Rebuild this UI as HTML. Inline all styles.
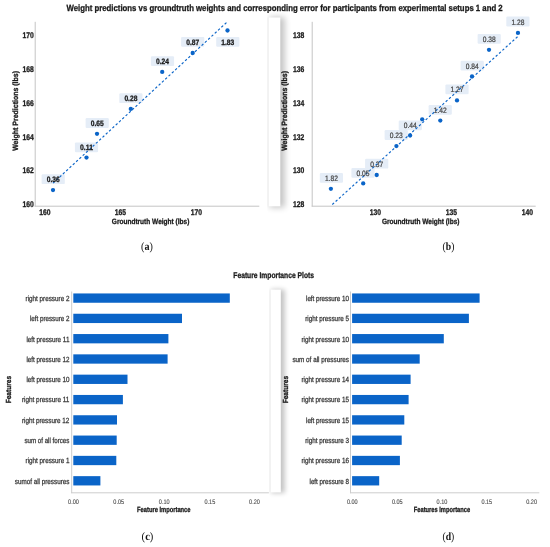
<!DOCTYPE html>
<html><head><meta charset="utf-8"><title>Figure</title>
<style>html,body{margin:0;padding:0;background:#fff}svg{display:block}</style>
</head><body>
<svg width="550" height="547" viewBox="0 0 550 547" text-rendering="geometricPrecision">
<rect width="550" height="547" fill="#fff"/>
<defs>
<filter id="bl" x="-100%" y="-10%" width="300%" height="120%"><feGaussianBlur stdDeviation="3.2"/></filter>
<filter id="bl2" x="-100%" y="-10%" width="300%" height="120%"><feGaussianBlur stdDeviation="2.8"/></filter>
<clipPath id="c1"><rect x="267.2" y="10" width="40" height="215"/></clipPath>
<clipPath id="c2"><rect x="269.2" y="282" width="40" height="225"/></clipPath>
</defs>
<g clip-path="url(#c1)"><rect x="269.5" y="17" width="15.3" height="190.5" fill="#000" opacity="0.23" filter="url(#bl)"/></g>
<rect x="268.80" y="17.50" width="11.50" height="188.80" fill="#fff"/>
<rect x="267.30" y="17.50" width="1.50" height="188.80" fill="#f3f3f3"/>
<g clip-path="url(#c2)"><rect x="271" y="289.5" width="13.8" height="203.5" fill="#000" opacity="0.23" filter="url(#bl2)"/></g>
<rect x="270.60" y="289.60" width="10.20" height="202.80" fill="#fff"/>
<rect x="269.60" y="289.60" width="1.00" height="202.80" fill="#f3f3f3"/>
<text x="66.50" y="10.90" font-family='"Liberation Sans", sans-serif' font-size="9" font-weight="bold" fill="#1a1a1a" textLength="436.20" lengthAdjust="spacingAndGlyphs" stroke="#1a1a1a" stroke-width="0.3">Weight predictions vs groundtruth weights and corresponding error for participants from experimental setups 1 and 2</text>
<text x="233.30" y="277.60" font-family='"Liberation Sans", sans-serif' font-size="8.3" font-weight="bold" fill="#1a1a1a" textLength="80.70" lengthAdjust="spacingAndGlyphs" stroke="#1a1a1a" stroke-width="0.3">Feature Importance Plots</text>
<line x1="35.20" y1="21.80" x2="35.20" y2="206.50" stroke="#c4c4c4" stroke-width="1"/>
<line x1="34.70" y1="206.20" x2="259.30" y2="206.20" stroke="#c4c4c4" stroke-width="1"/>
<text x="22.50" y="38.25" font-family='"Liberation Sans", sans-serif' font-size="8.3" font-weight="bold" fill="#1a1a1a" textLength="11.30" lengthAdjust="spacingAndGlyphs" stroke="#1a1a1a" stroke-width="0.3">170</text>
<text x="22.50" y="72.03" font-family='"Liberation Sans", sans-serif' font-size="8.3" font-weight="bold" fill="#1a1a1a" textLength="11.30" lengthAdjust="spacingAndGlyphs" stroke="#1a1a1a" stroke-width="0.3">168</text>
<text x="22.50" y="105.81" font-family='"Liberation Sans", sans-serif' font-size="8.3" font-weight="bold" fill="#1a1a1a" textLength="11.30" lengthAdjust="spacingAndGlyphs" stroke="#1a1a1a" stroke-width="0.3">166</text>
<text x="22.50" y="139.59" font-family='"Liberation Sans", sans-serif' font-size="8.3" font-weight="bold" fill="#1a1a1a" textLength="11.30" lengthAdjust="spacingAndGlyphs" stroke="#1a1a1a" stroke-width="0.3">164</text>
<text x="22.50" y="173.37" font-family='"Liberation Sans", sans-serif' font-size="8.3" font-weight="bold" fill="#1a1a1a" textLength="11.30" lengthAdjust="spacingAndGlyphs" stroke="#1a1a1a" stroke-width="0.3">162</text>
<text x="22.50" y="207.15" font-family='"Liberation Sans", sans-serif' font-size="8.3" font-weight="bold" fill="#1a1a1a" textLength="11.30" lengthAdjust="spacingAndGlyphs" stroke="#1a1a1a" stroke-width="0.3">160</text>
<text x="39.35" y="214.90" font-family='"Liberation Sans", sans-serif' font-size="8.2" font-weight="bold" fill="#1a1a1a" textLength="11.30" lengthAdjust="spacingAndGlyphs" stroke="#1a1a1a" stroke-width="0.3">160</text>
<text x="114.75" y="214.90" font-family='"Liberation Sans", sans-serif' font-size="8.2" font-weight="bold" fill="#1a1a1a" textLength="11.30" lengthAdjust="spacingAndGlyphs" stroke="#1a1a1a" stroke-width="0.3">165</text>
<text x="190.65" y="214.90" font-family='"Liberation Sans", sans-serif' font-size="8.2" font-weight="bold" fill="#1a1a1a" textLength="11.30" lengthAdjust="spacingAndGlyphs" stroke="#1a1a1a" stroke-width="0.3">170</text>
<text transform="translate(18.00,150.85) rotate(-90)" x="0" y="0" font-family='"Liberation Sans", sans-serif' font-size="7.7" font-weight="bold" fill="#1a1a1a" stroke="#1a1a1a" stroke-width="0.3" textLength="79.90" lengthAdjust="spacingAndGlyphs">Weight Predictions (lbs)</text>
<text x="111.80" y="223.70" font-family='"Liberation Sans", sans-serif' font-size="7.7" font-weight="bold" fill="#1a1a1a" textLength="77.60" lengthAdjust="spacingAndGlyphs" stroke="#1a1a1a" stroke-width="0.3">Groundtruth Weight (lbs)</text>
<rect x="41.60" y="174.30" width="23.2" height="9.8" rx="1.2" fill="#e5edf7"/>
<rect x="74.90" y="142.40" width="23.2" height="9.8" rx="1.2" fill="#e5edf7"/>
<rect x="85.60" y="118.10" width="23.2" height="9.8" rx="1.2" fill="#e5edf7"/>
<rect x="119.30" y="93.30" width="23.2" height="9.8" rx="1.2" fill="#e5edf7"/>
<rect x="150.90" y="56.20" width="23.2" height="9.8" rx="1.2" fill="#e5edf7"/>
<rect x="181.10" y="36.90" width="23.2" height="9.8" rx="1.2" fill="#e5edf7"/>
<rect x="216.20" y="36.90" width="23.2" height="9.8" rx="1.2" fill="#e5edf7"/>
<line x1="53.0" y1="183.2" x2="227.5" y2="21.6" stroke="#0a64c8" stroke-width="1.15" stroke-dasharray="2.4 2.1"/>
<circle cx="53.00" cy="190.10" r="2.15" fill="#0a64c8"/>
<circle cx="86.50" cy="157.60" r="2.15" fill="#0a64c8"/>
<circle cx="97.00" cy="133.80" r="2.15" fill="#0a64c8"/>
<circle cx="130.80" cy="108.90" r="2.15" fill="#0a64c8"/>
<circle cx="162.20" cy="71.90" r="2.15" fill="#0a64c8"/>
<circle cx="192.70" cy="53.00" r="2.15" fill="#0a64c8"/>
<circle cx="227.50" cy="30.50" r="2.15" fill="#0a64c8"/>
<text x="46.70" y="182.20" font-family='"Liberation Sans", sans-serif' font-size="7.8" font-weight="bold" fill="#1a1a1a" textLength="13.00" lengthAdjust="spacingAndGlyphs" stroke="#1a1a1a" stroke-width="0.3">0.36</text>
<text x="80.00" y="150.30" font-family='"Liberation Sans", sans-serif' font-size="7.8" font-weight="bold" fill="#1a1a1a" textLength="13.00" lengthAdjust="spacingAndGlyphs" stroke="#1a1a1a" stroke-width="0.3">0.11</text>
<text x="90.70" y="126.00" font-family='"Liberation Sans", sans-serif' font-size="7.8" font-weight="bold" fill="#1a1a1a" textLength="13.00" lengthAdjust="spacingAndGlyphs" stroke="#1a1a1a" stroke-width="0.3">0.65</text>
<text x="124.40" y="101.20" font-family='"Liberation Sans", sans-serif' font-size="7.8" font-weight="bold" fill="#1a1a1a" textLength="13.00" lengthAdjust="spacingAndGlyphs" stroke="#1a1a1a" stroke-width="0.3">0.28</text>
<text x="156.00" y="64.10" font-family='"Liberation Sans", sans-serif' font-size="7.8" font-weight="bold" fill="#1a1a1a" textLength="13.00" lengthAdjust="spacingAndGlyphs" stroke="#1a1a1a" stroke-width="0.3">0.24</text>
<text x="186.20" y="44.80" font-family='"Liberation Sans", sans-serif' font-size="7.8" font-weight="bold" fill="#1a1a1a" textLength="13.00" lengthAdjust="spacingAndGlyphs" stroke="#1a1a1a" stroke-width="0.3">0.87</text>
<text x="221.30" y="44.80" font-family='"Liberation Sans", sans-serif' font-size="7.8" font-weight="bold" fill="#1a1a1a" textLength="13.00" lengthAdjust="spacingAndGlyphs" stroke="#1a1a1a" stroke-width="0.3">1.83</text>
<text x="141.10" y="249.9" textLength="11.8" lengthAdjust="spacingAndGlyphs" font-family='"Liberation Serif", serif' font-size="11.3" fill="#111">(<tspan font-weight="bold">a</tspan>)</text>
<line x1="312.20" y1="21.80" x2="312.20" y2="206.50" stroke="#c4c4c4" stroke-width="1"/>
<line x1="311.70" y1="206.20" x2="535.70" y2="206.20" stroke="#c4c4c4" stroke-width="1"/>
<text x="292.90" y="38.25" font-family='"Liberation Sans", sans-serif' font-size="8.3" font-weight="bold" fill="#1a1a1a" textLength="11.30" lengthAdjust="spacingAndGlyphs" stroke="#1a1a1a" stroke-width="0.3">138</text>
<text x="292.90" y="72.03" font-family='"Liberation Sans", sans-serif' font-size="8.3" font-weight="bold" fill="#1a1a1a" textLength="11.30" lengthAdjust="spacingAndGlyphs" stroke="#1a1a1a" stroke-width="0.3">136</text>
<text x="292.90" y="105.81" font-family='"Liberation Sans", sans-serif' font-size="8.3" font-weight="bold" fill="#1a1a1a" textLength="11.30" lengthAdjust="spacingAndGlyphs" stroke="#1a1a1a" stroke-width="0.3">134</text>
<text x="292.90" y="139.59" font-family='"Liberation Sans", sans-serif' font-size="8.3" font-weight="bold" fill="#1a1a1a" textLength="11.30" lengthAdjust="spacingAndGlyphs" stroke="#1a1a1a" stroke-width="0.3">132</text>
<text x="292.90" y="173.37" font-family='"Liberation Sans", sans-serif' font-size="8.3" font-weight="bold" fill="#1a1a1a" textLength="11.30" lengthAdjust="spacingAndGlyphs" stroke="#1a1a1a" stroke-width="0.3">130</text>
<text x="292.90" y="207.15" font-family='"Liberation Sans", sans-serif' font-size="8.3" font-weight="bold" fill="#1a1a1a" textLength="11.30" lengthAdjust="spacingAndGlyphs" stroke="#1a1a1a" stroke-width="0.3">128</text>
<text x="369.85" y="214.90" font-family='"Liberation Sans", sans-serif' font-size="8.2" font-weight="bold" fill="#1a1a1a" textLength="11.30" lengthAdjust="spacingAndGlyphs" stroke="#1a1a1a" stroke-width="0.3">130</text>
<text x="445.85" y="214.90" font-family='"Liberation Sans", sans-serif' font-size="8.2" font-weight="bold" fill="#1a1a1a" textLength="11.30" lengthAdjust="spacingAndGlyphs" stroke="#1a1a1a" stroke-width="0.3">135</text>
<text x="521.85" y="214.90" font-family='"Liberation Sans", sans-serif' font-size="8.2" font-weight="bold" fill="#1a1a1a" textLength="11.30" lengthAdjust="spacingAndGlyphs" stroke="#1a1a1a" stroke-width="0.3">140</text>
<text transform="translate(287.40,150.85) rotate(-90)" x="0" y="0" font-family='"Liberation Sans", sans-serif' font-size="7.7" font-weight="bold" fill="#1a1a1a" stroke="#1a1a1a" stroke-width="0.3" textLength="79.90" lengthAdjust="spacingAndGlyphs">Weight Predictions (lbs)</text>
<text x="381.90" y="223.70" font-family='"Liberation Sans", sans-serif' font-size="7.7" font-weight="bold" fill="#1a1a1a" textLength="77.60" lengthAdjust="spacingAndGlyphs" stroke="#1a1a1a" stroke-width="0.3">Groundtruth Weight (lbs)</text>
<rect x="319.80" y="172.90" width="23.2" height="9.8" rx="1.2" fill="#e5edf7"/>
<rect x="351.40" y="167.90" width="23.2" height="9.8" rx="1.2" fill="#e5edf7"/>
<rect x="365.10" y="158.80" width="23.2" height="9.8" rx="1.2" fill="#e5edf7"/>
<rect x="384.60" y="130.10" width="23.2" height="9.8" rx="1.2" fill="#e5edf7"/>
<rect x="398.70" y="120.50" width="23.2" height="9.8" rx="1.2" fill="#e5edf7"/>
<rect x="428.60" y="105.00" width="23.2" height="9.8" rx="1.2" fill="#e5edf7"/>
<rect x="445.40" y="84.40" width="23.2" height="9.8" rx="1.2" fill="#e5edf7"/>
<rect x="460.60" y="60.70" width="23.2" height="9.8" rx="1.2" fill="#e5edf7"/>
<rect x="477.60" y="33.90" width="23.2" height="9.8" rx="1.2" fill="#e5edf7"/>
<rect x="506.30" y="16.60" width="23.2" height="9.8" rx="1.2" fill="#e5edf7"/>
<line x1="332.3" y1="204.5" x2="518.0" y2="36.3" stroke="#0a64c8" stroke-width="1.15" stroke-dasharray="2.4 2.1"/>
<circle cx="330.90" cy="188.80" r="2.15" fill="#0a64c8"/>
<circle cx="363.20" cy="183.40" r="2.15" fill="#0a64c8"/>
<circle cx="376.70" cy="175.00" r="2.15" fill="#0a64c8"/>
<circle cx="396.40" cy="146.10" r="2.15" fill="#0a64c8"/>
<circle cx="410.10" cy="135.50" r="2.15" fill="#0a64c8"/>
<circle cx="422.20" cy="119.30" r="2.15" fill="#0a64c8"/>
<circle cx="440.30" cy="120.60" r="2.15" fill="#0a64c8"/>
<circle cx="457.00" cy="100.40" r="2.15" fill="#0a64c8"/>
<circle cx="472.00" cy="76.50" r="2.15" fill="#0a64c8"/>
<circle cx="489.00" cy="49.80" r="2.15" fill="#0a64c8"/>
<circle cx="517.95" cy="32.95" r="2.15" fill="#0a64c8"/>
<text x="324.90" y="180.80" font-family='"Liberation Sans", sans-serif' font-size="7.8" font-weight="normal" fill="#444" textLength="13.00" lengthAdjust="spacingAndGlyphs" stroke="#444" stroke-width="0.22">1.82</text>
<text x="356.50" y="175.80" font-family='"Liberation Sans", sans-serif' font-size="7.8" font-weight="normal" fill="#444" textLength="13.00" lengthAdjust="spacingAndGlyphs" stroke="#444" stroke-width="0.22">0.05</text>
<text x="370.20" y="166.70" font-family='"Liberation Sans", sans-serif' font-size="7.8" font-weight="normal" fill="#444" textLength="13.00" lengthAdjust="spacingAndGlyphs" stroke="#444" stroke-width="0.22">0.37</text>
<text x="389.70" y="138.00" font-family='"Liberation Sans", sans-serif' font-size="7.8" font-weight="normal" fill="#444" textLength="13.00" lengthAdjust="spacingAndGlyphs" stroke="#444" stroke-width="0.22">0.23</text>
<text x="403.80" y="128.40" font-family='"Liberation Sans", sans-serif' font-size="7.8" font-weight="normal" fill="#444" textLength="13.00" lengthAdjust="spacingAndGlyphs" stroke="#444" stroke-width="0.22">0.44</text>
<text x="433.70" y="112.90" font-family='"Liberation Sans", sans-serif' font-size="7.8" font-weight="normal" fill="#444" textLength="13.00" lengthAdjust="spacingAndGlyphs" stroke="#444" stroke-width="0.22">1.42</text>
<text x="450.50" y="92.30" font-family='"Liberation Sans", sans-serif' font-size="7.8" font-weight="normal" fill="#444" textLength="13.00" lengthAdjust="spacingAndGlyphs" stroke="#444" stroke-width="0.22">1.27</text>
<text x="465.70" y="68.60" font-family='"Liberation Sans", sans-serif' font-size="7.8" font-weight="normal" fill="#444" textLength="13.00" lengthAdjust="spacingAndGlyphs" stroke="#444" stroke-width="0.22">0.84</text>
<text x="482.70" y="41.80" font-family='"Liberation Sans", sans-serif' font-size="7.8" font-weight="normal" fill="#444" textLength="13.00" lengthAdjust="spacingAndGlyphs" stroke="#444" stroke-width="0.22">0.38</text>
<text x="511.40" y="24.50" font-family='"Liberation Sans", sans-serif' font-size="7.8" font-weight="normal" fill="#444" textLength="13.00" lengthAdjust="spacingAndGlyphs" stroke="#444" stroke-width="0.22">1.28</text>
<text x="442.60" y="249.9" textLength="11.8" lengthAdjust="spacingAndGlyphs" font-family='"Liberation Serif", serif' font-size="11.3" fill="#111">(<tspan font-weight="bold">b</tspan>)</text>
<line x1="71.70" y1="291.50" x2="71.70" y2="493.20" stroke="#cdcdcd" stroke-width="1"/>
<line x1="71.20" y1="492.80" x2="268.90" y2="492.80" stroke="#cdcdcd" stroke-width="1"/>
<rect x="73.30" y="293.45" width="156.50" height="9.30" fill="#0a64c8"/>
<text x="25.60" y="300.95" font-family='"Liberation Sans", sans-serif' font-size="7.5" font-weight="normal" fill="#383838" textLength="43.80" lengthAdjust="spacingAndGlyphs" stroke="#383838" stroke-width="0.28">right pressure 2</text>
<rect x="73.30" y="313.75" width="108.70" height="9.30" fill="#0a64c8"/>
<text x="29.90" y="321.25" font-family='"Liberation Sans", sans-serif' font-size="7.5" font-weight="normal" fill="#383838" textLength="39.50" lengthAdjust="spacingAndGlyphs" stroke="#383838" stroke-width="0.28">left pressure 2</text>
<rect x="73.30" y="334.05" width="95.10" height="9.30" fill="#0a64c8"/>
<text x="26.40" y="341.55" font-family='"Liberation Sans", sans-serif' font-size="7.5" font-weight="normal" fill="#383838" textLength="43.00" lengthAdjust="spacingAndGlyphs" stroke="#383838" stroke-width="0.28">left pressure 11</text>
<rect x="73.30" y="354.35" width="94.30" height="9.30" fill="#0a64c8"/>
<text x="26.40" y="361.85" font-family='"Liberation Sans", sans-serif' font-size="7.5" font-weight="normal" fill="#383838" textLength="43.00" lengthAdjust="spacingAndGlyphs" stroke="#383838" stroke-width="0.28">left pressure 12</text>
<rect x="73.30" y="374.65" width="54.20" height="9.30" fill="#0a64c8"/>
<text x="26.40" y="382.15" font-family='"Liberation Sans", sans-serif' font-size="7.5" font-weight="normal" fill="#383838" textLength="43.00" lengthAdjust="spacingAndGlyphs" stroke="#383838" stroke-width="0.28">left pressure 10</text>
<rect x="73.30" y="394.95" width="49.60" height="9.30" fill="#0a64c8"/>
<text x="21.90" y="402.45" font-family='"Liberation Sans", sans-serif' font-size="7.5" font-weight="normal" fill="#383838" textLength="47.50" lengthAdjust="spacingAndGlyphs" stroke="#383838" stroke-width="0.28">right pressure 11</text>
<rect x="73.30" y="415.25" width="43.70" height="9.30" fill="#0a64c8"/>
<text x="21.90" y="422.75" font-family='"Liberation Sans", sans-serif' font-size="7.5" font-weight="normal" fill="#383838" textLength="47.50" lengthAdjust="spacingAndGlyphs" stroke="#383838" stroke-width="0.28">right pressure 12</text>
<rect x="73.30" y="435.55" width="43.40" height="9.30" fill="#0a64c8"/>
<text x="24.40" y="443.05" font-family='"Liberation Sans", sans-serif' font-size="7.5" font-weight="normal" fill="#383838" textLength="45.00" lengthAdjust="spacingAndGlyphs" stroke="#383838" stroke-width="0.28">sum of all forces</text>
<rect x="73.30" y="455.85" width="43.00" height="9.30" fill="#0a64c8"/>
<text x="25.60" y="463.35" font-family='"Liberation Sans", sans-serif' font-size="7.5" font-weight="normal" fill="#383838" textLength="43.80" lengthAdjust="spacingAndGlyphs" stroke="#383838" stroke-width="0.28">right pressure 1</text>
<rect x="73.30" y="476.15" width="27.10" height="9.30" fill="#0a64c8"/>
<text x="14.80" y="483.65" font-family='"Liberation Sans", sans-serif' font-size="7.5" font-weight="normal" fill="#383838" textLength="54.60" lengthAdjust="spacingAndGlyphs" stroke="#383838" stroke-width="0.28">sumof all pressures</text>
<text x="68.10" y="503.80" font-family='"Liberation Sans", sans-serif' font-size="6.6" font-weight="normal" fill="#4c4c4c" textLength="10.80" lengthAdjust="spacingAndGlyphs" stroke="#4c4c4c" stroke-width="0.12">0.00</text>
<text x="113.30" y="503.80" font-family='"Liberation Sans", sans-serif' font-size="6.6" font-weight="normal" fill="#4c4c4c" textLength="10.80" lengthAdjust="spacingAndGlyphs" stroke="#4c4c4c" stroke-width="0.12">0.05</text>
<text x="158.80" y="503.80" font-family='"Liberation Sans", sans-serif' font-size="6.6" font-weight="normal" fill="#4c4c4c" textLength="10.80" lengthAdjust="spacingAndGlyphs" stroke="#4c4c4c" stroke-width="0.12">0.10</text>
<text x="204.50" y="503.80" font-family='"Liberation Sans", sans-serif' font-size="6.6" font-weight="normal" fill="#4c4c4c" textLength="10.80" lengthAdjust="spacingAndGlyphs" stroke="#4c4c4c" stroke-width="0.12">0.15</text>
<text x="249.10" y="503.80" font-family='"Liberation Sans", sans-serif' font-size="6.6" font-weight="normal" fill="#4c4c4c" textLength="10.80" lengthAdjust="spacingAndGlyphs" stroke="#4c4c4c" stroke-width="0.12">0.20</text>
<text x="137.10" y="512.20" font-family='"Liberation Sans", sans-serif' font-size="7.5" font-weight="bold" fill="#1a1a1a" textLength="53.40" lengthAdjust="spacingAndGlyphs" stroke="#1a1a1a" stroke-width="0.3">Feature Importance</text>
<text transform="translate(11.00,403.30) rotate(-90)" x="0" y="0" font-family='"Liberation Sans", sans-serif' font-size="7.4" font-weight="bold" fill="#1a1a1a" stroke="#1a1a1a" stroke-width="0.3" textLength="27.40" lengthAdjust="spacingAndGlyphs">Features</text>
<text x="141.60" y="539.7" textLength="11.8" lengthAdjust="spacingAndGlyphs" font-family='"Liberation Serif", serif' font-size="11.3" fill="#111">(<tspan font-weight="bold">c</tspan>)</text>
<line x1="350.50" y1="291.50" x2="350.50" y2="493.20" stroke="#cdcdcd" stroke-width="1"/>
<line x1="350.00" y1="492.80" x2="539.30" y2="492.80" stroke="#cdcdcd" stroke-width="1"/>
<rect x="352.10" y="293.45" width="127.50" height="9.30" fill="#0a64c8"/>
<text x="306.00" y="300.95" font-family='"Liberation Sans", sans-serif' font-size="7.5" font-weight="normal" fill="#383838" textLength="43.00" lengthAdjust="spacingAndGlyphs" stroke="#383838" stroke-width="0.28">left pressure 10</text>
<rect x="352.10" y="313.75" width="116.80" height="9.30" fill="#0a64c8"/>
<text x="305.20" y="321.25" font-family='"Liberation Sans", sans-serif' font-size="7.5" font-weight="normal" fill="#383838" textLength="43.80" lengthAdjust="spacingAndGlyphs" stroke="#383838" stroke-width="0.28">right pressure 5</text>
<rect x="352.10" y="334.05" width="91.70" height="9.30" fill="#0a64c8"/>
<text x="301.50" y="341.55" font-family='"Liberation Sans", sans-serif' font-size="7.5" font-weight="normal" fill="#383838" textLength="47.50" lengthAdjust="spacingAndGlyphs" stroke="#383838" stroke-width="0.28">right pressure 10</text>
<rect x="352.10" y="354.35" width="67.60" height="9.30" fill="#0a64c8"/>
<text x="292.40" y="361.85" font-family='"Liberation Sans", sans-serif' font-size="7.5" font-weight="normal" fill="#383838" textLength="56.60" lengthAdjust="spacingAndGlyphs" stroke="#383838" stroke-width="0.28">sum of all pressures</text>
<rect x="352.10" y="374.65" width="58.50" height="9.30" fill="#0a64c8"/>
<text x="301.50" y="382.15" font-family='"Liberation Sans", sans-serif' font-size="7.5" font-weight="normal" fill="#383838" textLength="47.50" lengthAdjust="spacingAndGlyphs" stroke="#383838" stroke-width="0.28">right pressure 14</text>
<rect x="352.10" y="394.95" width="56.50" height="9.30" fill="#0a64c8"/>
<text x="301.50" y="402.45" font-family='"Liberation Sans", sans-serif' font-size="7.5" font-weight="normal" fill="#383838" textLength="47.50" lengthAdjust="spacingAndGlyphs" stroke="#383838" stroke-width="0.28">right pressure 15</text>
<rect x="352.10" y="415.25" width="52.20" height="9.30" fill="#0a64c8"/>
<text x="306.00" y="422.75" font-family='"Liberation Sans", sans-serif' font-size="7.5" font-weight="normal" fill="#383838" textLength="43.00" lengthAdjust="spacingAndGlyphs" stroke="#383838" stroke-width="0.28">left pressure 15</text>
<rect x="352.10" y="435.55" width="49.60" height="9.30" fill="#0a64c8"/>
<text x="305.20" y="443.05" font-family='"Liberation Sans", sans-serif' font-size="7.5" font-weight="normal" fill="#383838" textLength="43.80" lengthAdjust="spacingAndGlyphs" stroke="#383838" stroke-width="0.28">right pressure 3</text>
<rect x="352.10" y="455.85" width="47.80" height="9.30" fill="#0a64c8"/>
<text x="301.50" y="463.35" font-family='"Liberation Sans", sans-serif' font-size="7.5" font-weight="normal" fill="#383838" textLength="47.50" lengthAdjust="spacingAndGlyphs" stroke="#383838" stroke-width="0.28">right pressure 16</text>
<rect x="352.10" y="476.15" width="27.10" height="9.30" fill="#0a64c8"/>
<text x="309.50" y="483.65" font-family='"Liberation Sans", sans-serif' font-size="7.5" font-weight="normal" fill="#383838" textLength="39.50" lengthAdjust="spacingAndGlyphs" stroke="#383838" stroke-width="0.28">left pressure 8</text>
<text x="346.90" y="503.80" font-family='"Liberation Sans", sans-serif' font-size="6.6" font-weight="normal" fill="#4c4c4c" textLength="10.80" lengthAdjust="spacingAndGlyphs" stroke="#4c4c4c" stroke-width="0.12">0.00</text>
<text x="391.90" y="503.80" font-family='"Liberation Sans", sans-serif' font-size="6.6" font-weight="normal" fill="#4c4c4c" textLength="10.80" lengthAdjust="spacingAndGlyphs" stroke="#4c4c4c" stroke-width="0.12">0.05</text>
<text x="436.60" y="503.80" font-family='"Liberation Sans", sans-serif' font-size="6.6" font-weight="normal" fill="#4c4c4c" textLength="10.80" lengthAdjust="spacingAndGlyphs" stroke="#4c4c4c" stroke-width="0.12">0.10</text>
<text x="481.40" y="503.80" font-family='"Liberation Sans", sans-serif' font-size="6.6" font-weight="normal" fill="#4c4c4c" textLength="10.80" lengthAdjust="spacingAndGlyphs" stroke="#4c4c4c" stroke-width="0.12">0.15</text>
<text x="526.20" y="503.80" font-family='"Liberation Sans", sans-serif' font-size="6.6" font-weight="normal" fill="#4c4c4c" textLength="10.80" lengthAdjust="spacingAndGlyphs" stroke="#4c4c4c" stroke-width="0.12">0.20</text>
<text x="413.80" y="512.20" font-family='"Liberation Sans", sans-serif' font-size="7.5" font-weight="bold" fill="#1a1a1a" textLength="56.30" lengthAdjust="spacingAndGlyphs" stroke="#1a1a1a" stroke-width="0.3">Features Importance</text>
<text transform="translate(288.00,403.30) rotate(-90)" x="0" y="0" font-family='"Liberation Sans", sans-serif' font-size="7.4" font-weight="bold" fill="#1a1a1a" stroke="#1a1a1a" stroke-width="0.3" textLength="27.40" lengthAdjust="spacingAndGlyphs">Features</text>
<text x="442.50" y="539.7" textLength="11.8" lengthAdjust="spacingAndGlyphs" font-family='"Liberation Serif", serif' font-size="11.3" fill="#111">(<tspan font-weight="bold">d</tspan>)</text>
</svg>
</body></html>
